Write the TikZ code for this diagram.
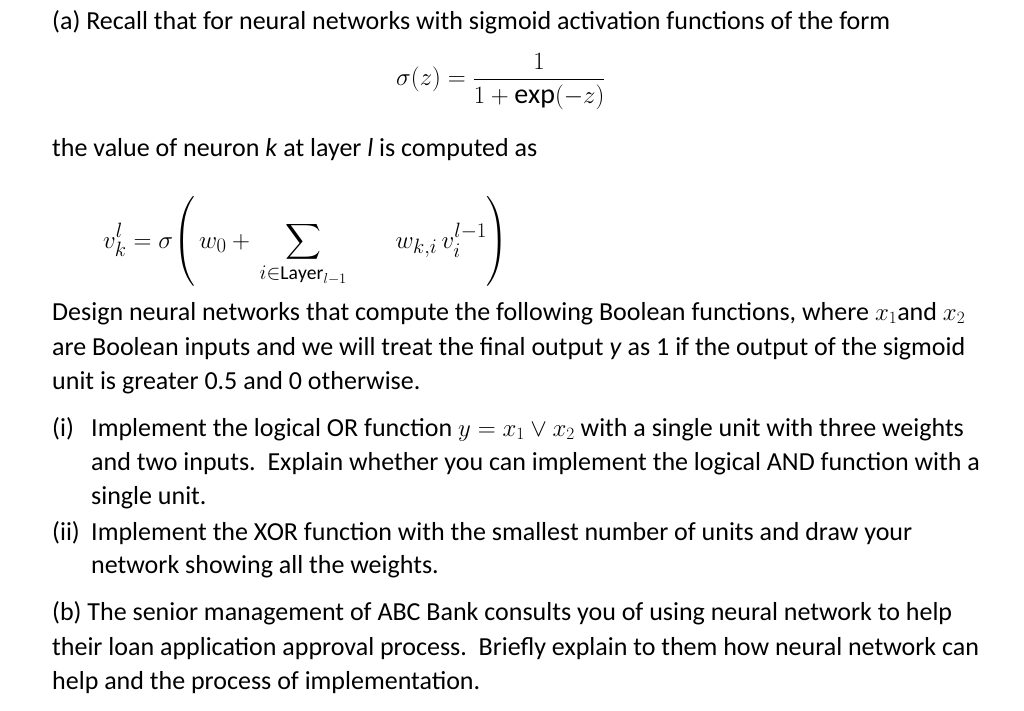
\documentclass[tikz,border=0pt]{standalone}
\usepackage{amsmath}
\usepackage{fontspec}
\setmainfont{Carlito}
\begin{document}
\begin{tikzpicture}[x=1pt,y=-1pt,txt/.style={anchor=base west,inner sep=0pt,font=\fontsize{26}{30}\selectfont}]
\useasboundingbox[fill=white] (0,0) rectangle (1024,711);
\node[txt] (l1) at (52,30) {(a) Recall that for neural networks with sigmoid activation functions of the form};
\node[txt,font=\fontsize{28}{32}\selectfont] (f1) at (396,86) {$\displaystyle\sigma(z)=\frac{1}{1+\exp(-z)}$};
\node[txt] (l2) at (52,157) {the value of neuron \textit{k} at layer \textit{l} is computed as};
\node[txt,font=\fontsize{28}{32}\selectfont] (f2) at (103,248) {$\displaystyle v_k^l=\sigma\!\left(\vphantom{\rule{0pt}{44pt}}\,w_0+\,\sum_{i\in\mathrm{Layer}_{l-1}}\hspace{1.6em} w_{k,i}\,v_i^{l-1}\right)$};
\node[txt] (l3) at (52,320) {Design neural networks that compute the following Boolean functions, where $x_1$and $x_2$};
\node[txt] (l4) at (52,355) {are Boolean inputs and we will treat the final output \textit{y} as 1 if the output of the sigmoid};
\node[txt] (l5) at (52,389) {unit is greater 0.5 and 0 otherwise.};
\node[txt] (i1) at (52,436) {(i)};
\node[txt] (i2) at (91,436) {Implement the logical OR function $y=x_1\vee x_2$ with a single unit with three weights};
\node[txt] (i3) at (91,470) {and two inputs.\ \ Explain whether you can implement the logical AND function with a};
\node[txt] (i4) at (91,504) {single unit.};
\node[txt] (ii1) at (52,540) {(ii)};
\node[txt] (ii2) at (91,540) {Implement the XOR function with the smallest number of units and draw your};
\node[txt] (ii3) at (91,573) {network showing all the weights.};
\node[txt] (b1) at (52,620) {(b) The senior management of ABC Bank consults you of using neural network to help};
\node[txt] (b2) at (52,655) {their loan application approval process.\ \ Briefly explain to them how neural network can};
\node[txt] (b3) at (52,689) {help and the process of implementation.};
\end{tikzpicture}
\end{document}
